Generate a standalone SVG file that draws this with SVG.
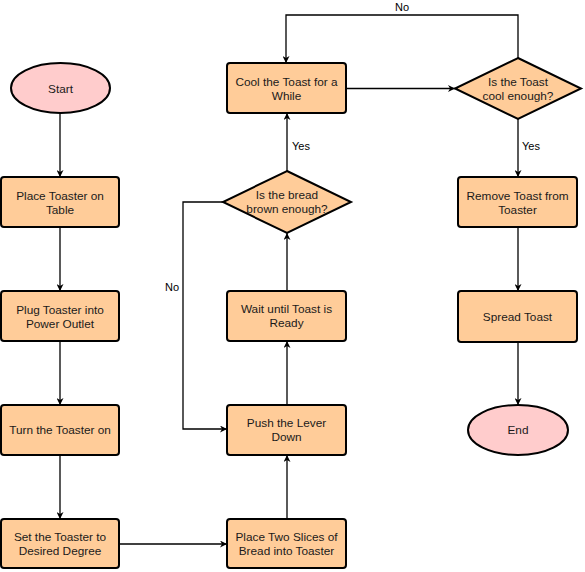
<svg xmlns="http://www.w3.org/2000/svg" width="585" height="572" viewBox="0 0 585 572">
<style>
.box{fill:#FFCC99;stroke:#000;stroke-width:2}
.term{fill:#FFCCCC;stroke:#000;stroke-width:2}
.t{font-family:"Liberation Sans",Arial,sans-serif;font-size:11.8px;fill:#1a1a1a;text-anchor:middle}
.lbl{font-family:"Liberation Sans",Arial,sans-serif;font-size:11px;fill:#000;text-anchor:middle}
.c{fill:none;stroke:#000;stroke-width:1.3}
</style>
<defs>
<marker id="arr" viewBox="0 0 10 10" refX="10" refY="5" markerWidth="7" markerHeight="7" markerUnits="userSpaceOnUse" orient="auto">
<path d="M0,0 L10,5 L0,10 L3,5 z" fill="#000"/>
</marker>
</defs>
<rect width="585" height="572" fill="#fff"/>
<g id="connectors">
<path class="c" d="M60,113 L60,177" marker-end="url(#arr)"/>
<path class="c" d="M60,227 L60,291" marker-end="url(#arr)"/>
<path class="c" d="M60,341 L60,405" marker-end="url(#arr)"/>
<path class="c" d="M60,455 L60,519" marker-end="url(#arr)"/>
<path class="c" d="M119,544 L227,544" marker-end="url(#arr)"/>
<path class="c" d="M287,519 L287,455" marker-end="url(#arr)"/>
<path class="c" d="M287,405 L287,341" marker-end="url(#arr)"/>
<path class="c" d="M287,291 L287,233" marker-end="url(#arr)"/>
<path class="c" d="M287,171 L287,113" marker-end="url(#arr)"/>
<path class="c" d="M223,202 L183,202 L183,429 L227,429" marker-end="url(#arr)"/>
<path class="c" d="M346,88.5 L455,88.5" marker-end="url(#arr)"/>
<path class="c" d="M518,58 L518,15 L286,15 L286,63" marker-end="url(#arr)"/>
<path class="c" d="M518,119 L518,177" marker-end="url(#arr)"/>
<path class="c" d="M518,227 L518,291" marker-end="url(#arr)"/>
<path class="c" d="M518,342 L518,405" marker-end="url(#arr)"/>
<text class="lbl" x="301" y="150">Yes</text>
<text class="lbl" x="531" y="150">Yes</text>
<text class="lbl" x="172" y="291">No</text>
<text class="lbl" x="402" y="11">No</text>
</g>
<g id="start">
<ellipse class="term" cx="60.5" cy="88" rx="49.5" ry="25"/>
<text class="t" x="60.5" y="93">Start</text>
</g>
<g id="place-toaster">
<rect class="box" x="1" y="177" width="118" height="50" rx="3"/>
<text class="t" x="60" y="200">Place Toaster on</text>
<text class="t" x="60" y="214">Table</text>
</g>
<g id="plug-toaster">
<rect class="box" x="1" y="291" width="118" height="50" rx="3"/>
<text class="t" x="60" y="314">Plug Toaster into</text>
<text class="t" x="60" y="328">Power Outlet</text>
</g>
<g id="turn-on">
<rect class="box" x="1" y="405" width="118" height="50" rx="3"/>
<text class="t" x="60" y="434">Turn the Toaster on</text>
</g>
<g id="set-degree">
<rect class="box" x="1" y="519" width="118" height="49" rx="3"/>
<text class="t" x="60" y="541">Set the Toaster to</text>
<text class="t" x="60" y="555">Desired Degree</text>
</g>
<g id="place-slices">
<rect class="box" x="227" y="519" width="119" height="49" rx="3"/>
<text class="t" x="286.5" y="541">Place Two Slices of</text>
<text class="t" x="286.5" y="555">Bread into Toaster</text>
</g>
<g id="push-lever">
<rect class="box" x="227" y="405" width="119" height="50" rx="3"/>
<text class="t" x="286.5" y="427">Push the Lever</text>
<text class="t" x="286.5" y="441">Down</text>
</g>
<g id="wait">
<rect class="box" x="227" y="291" width="119" height="50" rx="3"/>
<text class="t" x="286.5" y="313">Wait until Toast is</text>
<text class="t" x="286.5" y="327">Ready</text>
</g>
<g id="bread-brown">
<polygon class="box" points="287,171 351,202 287,233 223,202"/>
<text class="t" x="287" y="199">Is the bread</text>
<text class="t" x="287" y="213">brown enough?</text>
</g>
<g id="cool-toast">
<rect class="box" x="227" y="63" width="119" height="50" rx="3"/>
<text class="t" x="286.5" y="86">Cool the Toast for a</text>
<text class="t" x="286.5" y="100">While</text>
</g>
<g id="toast-cool">
<polygon class="box" points="518,58 581,88.5 518,119 455,88.5"/>
<text class="t" x="518" y="86">Is the Toast</text>
<text class="t" x="518" y="100">cool enough?</text>
</g>
<g id="remove-toast">
<rect class="box" x="458" y="177" width="119" height="50" rx="3"/>
<text class="t" x="517.5" y="200">Remove Toast from</text>
<text class="t" x="517.5" y="214">Toaster</text>
</g>
<g id="spread-toast">
<rect class="box" x="458" y="291" width="119" height="51" rx="3"/>
<text class="t" x="517.5" y="321">Spread Toast</text>
</g>
<g id="end">
<ellipse class="term" cx="518" cy="430" rx="50" ry="25"/>
<text class="t" x="518" y="434">End</text>
</g>
</svg>
